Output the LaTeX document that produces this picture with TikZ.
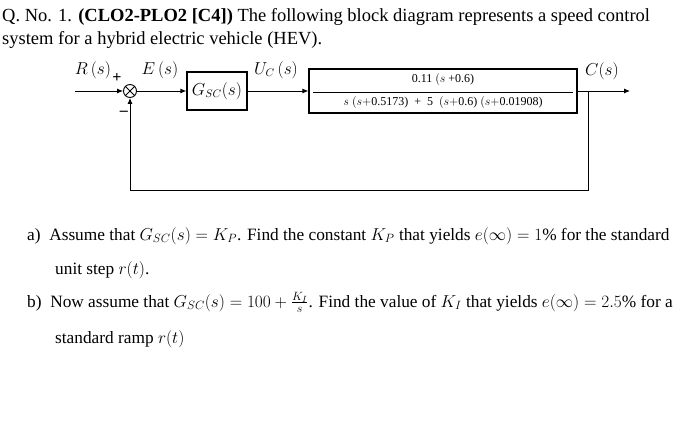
\documentclass[tikz,border=0pt]{standalone}
\usepackage{fontspec}
\setmainfont{Liberation Serif}
\usetikzlibrary{arrows.meta}
\begin{document}
\begin{tikzpicture}[x=1pt,y=-1pt,
  blk/.style={draw,line width=1.2pt,inner sep=0pt},
  sig/.style={line width=0.9pt,-{Latex[length=6pt,width=5pt]}},
  ln/.style={line width=0.9pt},
  txt/.style={anchor=base west,inner sep=0pt,font=\fontsize{18.5}{20}\selectfont},
  qtxt/.style={anchor=base west,inner sep=0pt,font=\fontsize{17.3}{20}\selectfont},
  lbl/.style={inner sep=0pt,font=\fontsize{16}{18}\selectfont}]
\useasboundingbox (0,0) rectangle (700,422);
\node[txt] (t1) at (2,22) {Q. No. 1. \textbf{(CLO2-PLO2 [C4])} The following block diagram represents a speed control};
\node[txt] (t2) at (2,45) {system for a hybrid electric vehicle (HEV).};
% diagram
\coordinate (in) at (75,91);
\node[draw,circle,line width=0.9pt,minimum size=13pt,inner sep=0pt] (sum) at (130,91) {};
\draw[line width=0.9pt] (sum.north west)--(sum.south east) (sum.north east)--(sum.south west);
\node[blk,minimum width=60pt,minimum height=38pt,font=\fontsize{16}{18}\selectfont] (g) at (217,91) {$G_{SC}(s)$};
\node[blk,minimum width=268pt,minimum height=44pt] (p) at (443,91) {};
\node[inner sep=0pt,font=\fontsize{12}{14}\selectfont] (num) at (443,80) {0.11 $(s$ +0.6)};
\node[inner sep=0pt,font=\fontsize{12}{14}\selectfont] (den) at (443,103) {$s$ $(s+$0.5173)\ \ +\ \ 5\ \ $(s+$0.6) $(s+$0.01908)};
\draw[line width=0.6pt] (313,92) -- (573,92);
\coordinate (tap) at (588,91);
\coordinate (out) at (630,91);
\coordinate (b1) at (588,190);
\coordinate (b2) at (130,190);
\draw[sig] (in) -- (sum.west);
\draw[sig] (sum.east) -- (g.west);
\draw[sig] (g.east) -- (p.west);
\draw[sig] (p.east) -- (out);
\draw[ln] (tap) -- (b1) -- (b2);
\draw[sig] (b2) -- (sum.south);
\node[lbl] (rs) at (93,70) {$R\,(s)$};
\node[lbl] (pl) at (117,78) {\textbf{+}};
\node[lbl] (mi) at (124,113) {\textbf{--}};
\node[lbl] (es) at (160,70) {$E\,(s)$};
\node[lbl] (uc) at (276,70) {$U_C\,(s)$};
\node[lbl] (cs) at (602,71) {$C(s)$};
% questions
\node[qtxt] (qa) at (27,240) {a)\ \ Assume that $G_{SC}(s)=K_P$. Find the constant $K_P$ that yields $e(\infty)=1\%$ for the standard};
\node[qtxt] (qa2) at (55,274) {unit step $r(t)$.};
\node[qtxt] (qb) at (27,307) {b)\ \ Now assume that $G_{SC}(s)=100+\frac{K_I}{s}$. Find the value of $K_I$ that yields $e(\infty)=2.5\%$ for a};
\node[qtxt] (qb2) at (55,343) {standard ramp $r(t)$};
\end{tikzpicture}
\end{document}
